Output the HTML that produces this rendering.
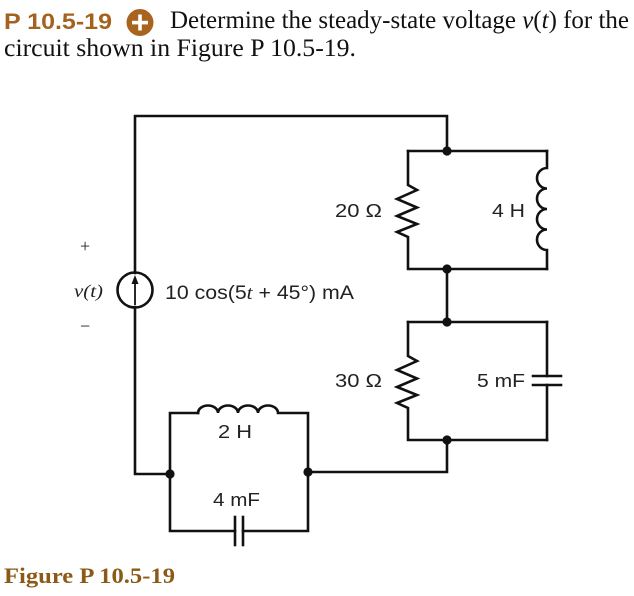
<!DOCTYPE html>
<html>
<head>
<meta charset="utf-8">
<style>
html,body{margin:0;padding:0;background:#fff;}
svg{display:block;}
</style>
</head>
<body>
<svg width="634" height="596" viewBox="0 0 634 596" xmlns="http://www.w3.org/2000/svg">
  <rect width="634" height="596" fill="#fff"/>
  <!-- Header -->
  <text x="4" y="29" font-family="Liberation Sans, sans-serif" font-weight="bold" font-size="22" fill="#a3621d" textLength="108" lengthAdjust="spacingAndGlyphs">P 10.5-19</text>
  <circle cx="140" cy="22.5" r="13.5" fill="#a8641f"/>
  <rect x="132" y="20.8" width="16" height="3.6" fill="#fff"/>
  <rect x="138.2" y="14.5" width="3.6" height="16" fill="#fff"/>
  <text x="170" y="28" font-family="Liberation Serif, serif" font-size="25" fill="#111" textLength="459" lengthAdjust="spacingAndGlyphs">Determine the steady-state voltage <tspan font-style="italic">v</tspan>(<tspan font-style="italic">t</tspan>) for the</text>
  <text x="4" y="56" font-family="Liberation Serif, serif" font-size="25" fill="#111" textLength="352" lengthAdjust="spacingAndGlyphs">circuit shown in Figure P 10.5-19.</text>

  <!-- Circuit wires -->
  <g stroke="#111" stroke-width="2.6" fill="none" stroke-linejoin="miter" stroke-linecap="square">
    <polyline points="135,273 135,116 447,116 447,151"/>
    <polyline points="135,307 135,474 170,474"/>
    <polyline points="408,151 547,151"/>
    <polyline points="408,151 408,185 417,190 397,199 417,207.5 397,216 417,224 397,232 408,237 408,269 547,269"/>
    <path d="M547,151 L547,168 A10,10.25 0 0 0 547,188.5 A10,10.25 0 0 0 547,209 A10,10.25 0 0 0 547,229.5 A10,10.25 0 0 0 547,250 L547,269"/>
    <line x1="447" y1="269" x2="447" y2="322"/>
    <polyline points="408,322 547,322"/>
    <polyline points="408,322 408,356 417,361 397,370 417,378.5 397,387 417,395 397,403 408,408 408,440 547,440"/>
    <polyline points="547,322 547,376"/>
    <polyline points="547,385 547,440"/>
    <line x1="533" y1="376" x2="561" y2="376"/>
    <line x1="533" y1="385" x2="561" y2="385"/>
    <polyline points="447,440 447,472 308,472"/>
    <polyline points="170,474 170,413 198,413"/>
    <path d="M198,413 A10,7.5 0 0 1 218,413 A10,7.5 0 0 1 238,413 A10,7.5 0 0 1 258,413 A10,7.5 0 0 1 278,413 L308,413 L308,531 L243,531"/>
    <polyline points="170,474 170,531 235,531"/>
    <line x1="235" y1="517" x2="235" y2="545"/>
    <line x1="243" y1="517" x2="243" y2="545"/>
  </g>

  <!-- Current source -->
  <circle cx="135" cy="290" r="17.5" fill="none" stroke="#111" stroke-width="2.6"/>
  <line x1="135" y1="305" x2="135" y2="280" stroke="#111" stroke-width="1.8"/>
  <path d="M135,275 L131.5,284 L138.5,284 Z" fill="#111"/>

  <!-- Nodes -->
  <g fill="#111">
    <circle cx="447" cy="151" r="4.6"/>
    <circle cx="447" cy="269" r="4.6"/>
    <circle cx="447" cy="322" r="4.6"/>
    <circle cx="447" cy="440" r="4.6"/>
    <circle cx="308" cy="472" r="4.6"/>
    <circle cx="170" cy="474" r="4.6"/>
  </g>

  <!-- Labels -->
  <g font-family="Liberation Sans, sans-serif" font-size="18" fill="#222">
    <text x="335" y="217" textLength="47" lengthAdjust="spacingAndGlyphs">20 Ω</text>
    <text x="335" y="387" textLength="47" lengthAdjust="spacingAndGlyphs">30 Ω</text>
    <text x="492" y="217" textLength="33" lengthAdjust="spacingAndGlyphs">4 H</text>
    <text x="477" y="387" textLength="48" lengthAdjust="spacingAndGlyphs">5 mF</text>
    <text x="218" y="438" textLength="34" lengthAdjust="spacingAndGlyphs">2 H</text>
    <text x="213" y="506" textLength="47" lengthAdjust="spacingAndGlyphs">4 mF</text>
    <text x="165" y="299" font-size="19" textLength="189" lengthAdjust="spacingAndGlyphs">10 cos(5<tspan font-family="Liberation Serif, serif" font-style="italic">t</tspan> + 45°) mA</text>
  </g>
  <g font-family="Liberation Serif, serif" fill="#222">
    <text x="80" y="252" font-size="18">+</text>
    <text x="74" y="297" font-size="18" font-style="italic" textLength="29" lengthAdjust="spacingAndGlyphs">v(t)</text>
    <text x="80" y="332" font-size="18">−</text>
  </g>

  <!-- Figure caption -->
  <text x="4" y="583" font-family="Liberation Serif, serif" font-weight="bold" font-size="22" fill="#8c5a16" textLength="171" lengthAdjust="spacingAndGlyphs">Figure P 10.5-19</text>
</svg>
</body>
</html>
